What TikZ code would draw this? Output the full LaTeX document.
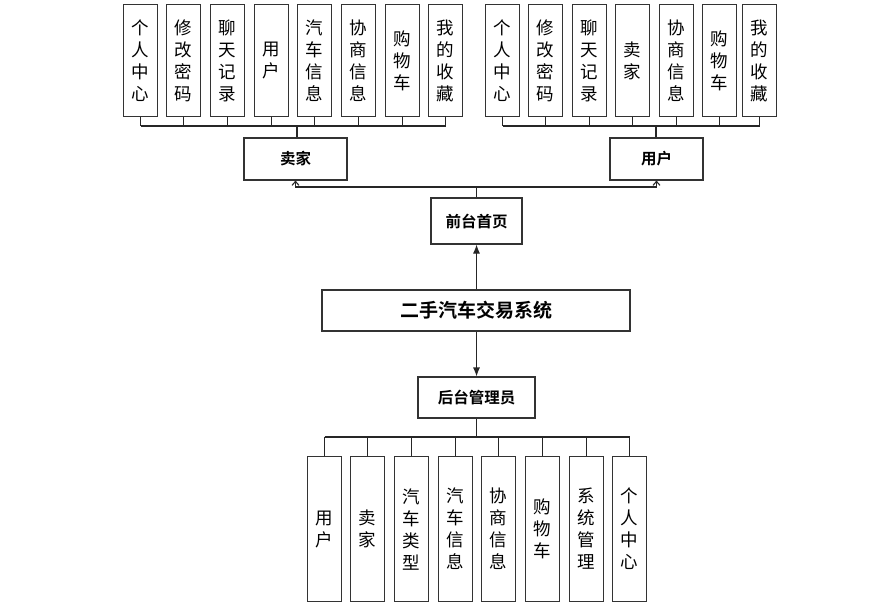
\documentclass[tikz,border=0pt]{standalone}
\usepackage{fontspec}
\usetikzlibrary{arrows.meta}
\newfontfamily\cjk{Noto Sans CJK SC}
\newfontfamily\cjkb{Noto Sans CJK SC Bold}
\begin{document}
\begin{tikzpicture}[x=1pt,y=-1pt,
  leaf/.style={draw=black!80,line width=1.1pt,minimum width=34pt,inner sep=0pt,anchor=north west,font=\cjk\fontsize{17.5}{22}\selectfont,align=center},
  mainbox/.style={draw=black!80,line width=1.1pt,inner sep=0pt,font=\cjkb\fontsize{15.5}{18}\selectfont},
  ln/.style={line width=1.1pt,black!85},
  arr/.style={ln,-{Latex[length=9pt,width=7pt]}},
  oarr/.style={ln,-{Straight Barb[length=4pt,width=7pt]}}]
\useasboundingbox (0,0) rectangle (874,607);
\foreach \x/\t [count=\i] in {123/个\\人\\中\\心,166/修\\改\\密\\码,210/聊\\天\\记\\录,254/用\\户,297/汽\\车\\信\\息,341/协\\商\\信\\息,385/购\\物\\车,428/我\\的\\收\\藏}
  \node[leaf,minimum height=112pt] (l\i) at (\x,4) {\t};
\foreach \x/\t [count=\i] in {485/个\\人\\中\\心,528/修\\改\\密\\码,572/聊\\天\\记\\录,615/卖\\家,659/协\\商\\信\\息,702/购\\物\\车,742/我\\的\\收\\藏}
  \node[leaf,minimum height=112pt] (r\i) at (\x,4) {\t};
\foreach \x/\t [count=\i] in {307/用\\户,350/卖\\家,394/汽\\车\\类\\型,438/汽\\车\\信\\息,481/协\\商\\信\\息,525/购\\物\\车,569/系\\统\\管\\理,612/个\\人\\中\\心}
  \node[leaf,minimum height=145pt] (b\i) at (\x,456) {\t};
\node[mainbox,minimum width=103pt,minimum height=42pt] (seller) at (295.5,159) {卖家};
\node[mainbox,minimum width=93pt,minimum height=42pt] (user) at (656.5,159) {用户};
\node[mainbox,minimum width=91pt,minimum height=46pt] (front) at (476.5,221) {前台首页};
\node[mainbox,minimum width=308pt,minimum height=41pt,font=\cjkb\fontsize{19}{22}\selectfont] (sys) at (476,310.5) {二手汽车交易系统};
\node[mainbox,minimum width=117pt,minimum height=41pt] (back) at (476.5,397.5) {后台管理员};
\coordinate (lbus) at (297,126);
\foreach \i in {1,...,8} \draw[ln] (l\i.south) -- (l\i.south |- lbus);
\draw[ln] (l1.south |- lbus) -- (l8.south |- lbus);
\draw[ln] (lbus) -- (lbus |- seller.north);
\coordinate (rbus) at (656,126);
\foreach \i in {1,...,7} \draw[ln] (r\i.south) -- (r\i.south |- rbus);
\draw[ln] (r1.south |- rbus) -- (r7.south |- rbus);
\draw[ln] (rbus) -- (rbus |- user.north);
\coordinate (fj) at (476.5,187);
\draw[ln] (front.north) -- (fj);
\draw[oarr] (fj) -| (seller.south);
\draw[oarr] (fj) -| (user.south);
\draw[arr] (sys.north -| front.south) -- (front.south);
\draw[arr] (sys.south -| back.north) -- (back.north);
\coordinate (bbus) at (476.5,437);
\draw[ln] (back.south) -- (bbus);
\draw[ln] (b1.north |- bbus) -- (b8.north |- bbus);
\foreach \i in {1,...,8} \draw[ln] (b\i.north |- bbus) -- (b\i.north);
\end{tikzpicture}
\end{document}
